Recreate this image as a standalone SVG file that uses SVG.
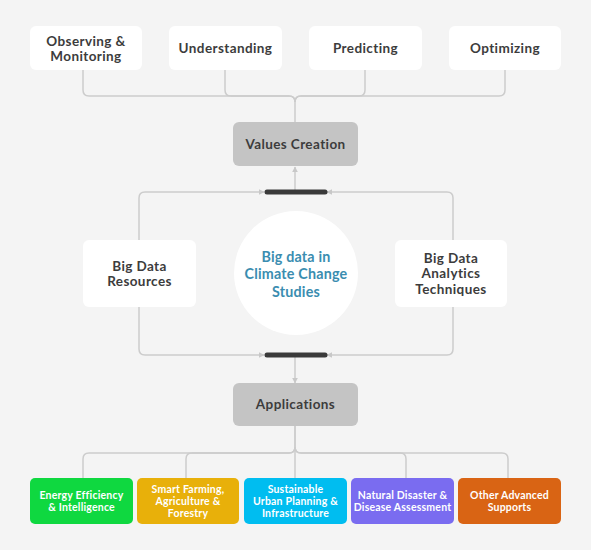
<svg xmlns="http://www.w3.org/2000/svg" width="591" height="550" viewBox="0 0 591 550">
<defs>
<marker id="ah" viewBox="0 0 10 10" refX="9" refY="5" markerWidth="6" markerHeight="6" orient="auto" markerUnits="userSpaceOnUse"><path d="M0,0 L10,5 L0,10 z" fill="#c8c8c8"/></marker>
</defs>
<style>
.box{fill:#ffffff}
.gray{fill:#c4c4c4}
.t{font-family:"Lato","Open Sans",sans-serif;font-weight:700;font-size:13.5px;letter-spacing:0.4px;fill:#3c3c3c;text-anchor:middle}
.c{font-family:"Lato","Open Sans",sans-serif;font-weight:700;font-size:14.3px;letter-spacing:0.2px;fill:#3a8db0;text-anchor:middle}
.w{font-family:"Lato","Open Sans",sans-serif;font-weight:700;font-size:10.5px;letter-spacing:0.2px;fill:#ffffff;text-anchor:middle}
.ln{fill:none;stroke:#cccccc;stroke-width:1.5}
.bar{stroke:#3a3a3a;stroke-width:5;stroke-linecap:round}
</style>
<rect width="591" height="550" fill="#f4f4f4"/>
<g id="connectors">
<path class="ln" d="M83,70 V90 Q83,96 89,96 H289 Q295,96 295,102 V122"/>
<path class="ln" d="M225,70 V90 Q225,96 231,96 H289 Q295,96 295,102"/>
<path class="ln" d="M365,70 V90 Q365,96 359,96 H301 Q295,96 295,102"/>
<path class="ln" d="M505,70 V90 Q505,96 499,96 H301 Q295,96 295,102"/>
<path class="ln" d="M295,190 V167" marker-end="url(#ah)"/>
<path class="ln" d="M139,240 V198 Q139,192 145,192 H264" marker-end="url(#ah)"/>
<path class="ln" d="M453,240 V198 Q453,192 447,192 H327" marker-end="url(#ah)"/>
<path class="ln" d="M139,307 V349 Q139,355 145,355 H264" marker-end="url(#ah)"/>
<path class="ln" d="M453,307 V349 Q453,355 447,355 H327" marker-end="url(#ah)"/>
<path class="ln" d="M295,357 V383" marker-end="url(#ah)"/>
<path class="ln" d="M295,426 V447 Q295,453 289,453 H89 Q83,453 83,459 V478"/>
<path class="ln" d="M295,447 Q295,453 289,453 H192 Q186,453 186,459 V478"/>
<path class="ln" d="M295,426 V478"/>
<path class="ln" d="M295,447 Q295,453 301,453 H400 Q406,453 406,459 V478"/>
<path class="ln" d="M295,447 Q295,453 301,453 H502 Q508,453 508,459 V478"/>
<line class="bar" x1="267" y1="192" x2="325" y2="192"/>
<line class="bar" x1="267" y1="355" x2="325" y2="355"/>
</g>
<g id="observing"><rect class="box" x="30" y="26" width="112" height="44" rx="6"/><text class="t" x="86" y="46">Observing &amp;</text><text class="t" x="86" y="61">Monitoring</text></g>
<g id="understanding"><rect class="box" x="169" y="26" width="113" height="44" rx="6"/><text class="t" x="225.5" y="53">Understanding</text></g>
<g id="predicting"><rect class="box" x="309" y="26" width="113" height="44" rx="6"/><text class="t" x="365.5" y="53">Predicting</text></g>
<g id="optimizing"><rect class="box" x="449" y="26" width="112" height="44" rx="6"/><text class="t" x="505" y="53">Optimizing</text></g>
<g id="values"><rect class="gray" x="233" y="122" width="125" height="44" rx="6"/><text class="t" x="295.5" y="149">Values Creation</text></g>
<g id="resources"><rect class="box" x="83" y="240" width="113" height="67" rx="6"/><text class="t" x="139.5" y="271">Big Data</text><text class="t" x="139.5" y="286">Resources</text></g>
<g id="center"><circle cx="296" cy="273" r="62" fill="#ffffff"/><text class="c" x="296" y="262">Big data in</text><text class="c" x="296" y="279">Climate Change</text><text class="c" x="296" y="297">Studies</text></g>
<g id="analytics"><rect class="box" x="395" y="240" width="112" height="67" rx="6"/><text class="t" x="451" y="263">Big Data</text><text class="t" x="451" y="278">Analytics</text><text class="t" x="451" y="293.5">Techniques</text></g>
<g id="applications"><rect class="gray" x="233" y="383" width="125" height="43" rx="6"/><text class="t" x="295.5" y="409">Applications</text></g>
<g id="energy"><rect x="30" y="478" width="103" height="46" rx="5" fill="#0fd840"/><text class="w" x="81.5" y="499">Energy Efficiency</text><text class="w" x="81.5" y="511">&amp; Intelligence</text></g>
<g id="farming"><rect x="137" y="478" width="102" height="46" rx="5" fill="#e8b00a"/><text class="w" x="188" y="493">Smart Farming,</text><text class="w" x="188" y="505">Agriculture &amp;</text><text class="w" x="188" y="517">Forestry</text></g>
<g id="urban"><rect x="244" y="478" width="103" height="46" rx="5" fill="#00bdf0"/><text class="w" x="295.5" y="493">Sustainable</text><text class="w" x="295.5" y="505">Urban Planning &amp;</text><text class="w" x="295.5" y="517">Infrastructure</text></g>
<g id="disaster"><rect x="351" y="478" width="103" height="46" rx="5" fill="#7a6cf0"/><text class="w" x="402.5" y="499">Natural Disaster &amp;</text><text class="w" x="402.5" y="511">Disease Assessment</text></g>
<g id="other"><rect x="458" y="478" width="103" height="46" rx="5" fill="#d96414"/><text class="w" x="509.5" y="499">Other Advanced</text><text class="w" x="509.5" y="511">Supports</text></g>
</svg>
